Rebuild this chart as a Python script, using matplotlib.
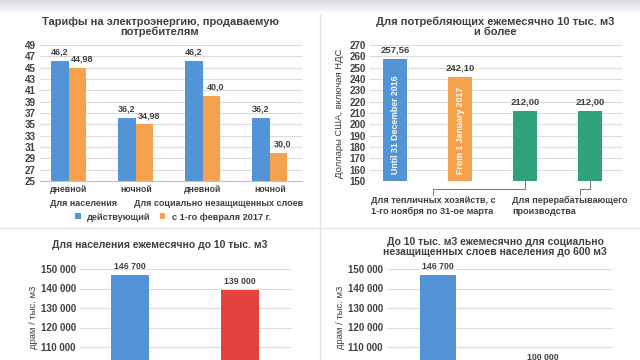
import numpy as np
import matplotlib
matplotlib.use('Agg')
import matplotlib.pyplot as plt
from matplotlib.lines import Line2D

plt.rcParams['font.family'] = ['Liberation Sans', 'DejaVu Sans']
plt.rcParams['font.weight'] = 'bold'

W, H = 640, 360

# top left: electricity tariffs
tariff_cats = ['дневной', 'ночной', 'дневной', 'ночной']
tariff_groups = ['Для населения', 'Для социально незащищенных слоев']
tariff_now = [46.2, 36.2, 46.2, 36.2]
tariff_new = [44.98, 34.98, 40.0, 30.0]
legend_names = ['действующий', 'с 1-го февраля 2017 г.']

# top right: gas, 10k m3 and more
big_vals = [257.56, 242.10, 212.00, 212.00]
big_inside = ['Until 31 December 2016', 'From 1 January 2017', '', '']
big_groups = ['Для тепличных хозяйств, с\n1-го ноября по 31-ое марта',
              'Для перерабатывающего\nпроизводства']

# bottom: gas up to 10k m3
home_vals = [146700, 139000]
social_vals = [146700, 100000]

BLUE = '#5294d6'
ORANGE = '#f5a24e'
GREEN = '#2fa27c'
RED = '#e5413f'
TXT = '#404040'
GRID = '#dcdcdc'


def px_axes(x0, y0, x1, y1):
    return fig.add_axes([x0 / W, 1 - y1 / H, (x1 - x0) / W, (y1 - y0) / H])


def px_text(x, y, s, **kw):
    kw.setdefault('color', TXT)
    kw.setdefault('fontweight', 'bold')
    return fig.text(x / W, 1 - y / H, s, **kw)


def style(ax, size=7):
    for s in ['top', 'right', 'left']:
        ax.spines[s].set_visible(False)
    ax.spines['bottom'].set_color('#bfbfbf')
    ax.grid(axis='y', color=GRID, lw=0.8)
    ax.set_axisbelow(True)
    ax.tick_params(length=0, labelsize=size, labelcolor=TXT, pad=3)
    ax.patch.set_alpha(0)


def dec(v, n):
    return f'{v:.{n}f}'.replace('.', ',')


def thous(v):
    return f'{v:,.0f}'.replace(',', ' ')


fig = plt.figure(figsize=(W / 100, H / 100), dpi=100)
fig.patch.set_facecolor('white')

# background gradient strip at top and panel separators
bg = fig.add_axes([0, 0, 1, 1], zorder=-10)
grad = np.linspace(0, 1, 60).reshape(-1, 1)
bg.imshow(grad, cmap=matplotlib.colors.LinearSegmentedColormap.from_list(
    'g', ['#d7dbe1', '#ffffff']), aspect='auto', extent=[0, 1, 1 - 14 / H, 1])
bg.set_xlim(0, 1)
bg.set_ylim(0, 1)
bg.axis('off')
bg.add_line(Line2D([320 / W, 320 / W], [0, 1 - 14 / H], color='#e4e4e4', lw=1))
bg.add_line(Line2D([0, 1], [1 - 228 / H, 1 - 228 / H], color='#e4e4e4', lw=1))

# ---- top left
ax1 = px_axes(40, 45, 302, 181)
style(ax1)
x = np.arange(len(tariff_cats))
bw = 0.26
b1 = ax1.bar(x - bw / 2, np.array(tariff_now) - 25, bw, bottom=25, color=BLUE)
b2 = ax1.bar(x + bw / 2, np.array(tariff_new) - 25, bw, bottom=25, color=ORANGE)
for xi, v in zip(x, tariff_now):
    ax1.annotate(dec(v, 1), (xi - bw / 2, v), xytext=(0, 3), textcoords='offset points',
                 ha='center', va='bottom', fontsize=6.5, color=TXT)
for xi, v in zip(x, tariff_new):
    ax1.annotate(dec(v, 2) if v % 1 else dec(v, 1), (xi + bw / 2, v), xytext=(3, 3),
                 textcoords='offset points', ha='center', va='bottom', fontsize=6.5, color=TXT)
ax1.set_ylim(25, 49)
ax1.set_yticks(np.arange(25, 50, 2))
ax1.set_xlim(-0.43, 3.48)
ax1.set_xticks(x)
ax1.set_xticklabels(tariff_cats, fontsize=6.3)
px_text(160, 27, 'Тарифы на электроэнергию, продаваемую\nпотребителям', ha='center',
        va='center', fontsize=8, linespacing=1.0)
px_text(83, 203, tariff_groups[0], ha='center', va='center', fontsize=6.5)
px_text(219, 203, tariff_groups[1], ha='center', va='center', fontsize=6.5)
fig.legend([b1, b2], legend_names, loc='center', bbox_to_anchor=(173 / W, 1 - 217 / H),
           ncol=2, frameon=False, fontsize=6.6, handlelength=0.6, handleheight=0.6,
           handletextpad=0.7, columnspacing=1.0, labelcolor=TXT)

# ---- top right
ax2 = px_axes(370, 45, 622, 181)
style(ax2)
x2 = np.arange(len(big_vals))
ax2.bar(x2, np.array(big_vals) - 150, 0.36, bottom=150, color=[BLUE, ORANGE, GREEN, GREEN])
for xi, v, s in zip(x2, big_vals, big_inside):
    ax2.annotate(dec(v, 2), (xi, v), xytext=(0, 3), textcoords='offset points',
                 ha='center', va='bottom', fontsize=6.8, color=TXT)
    if s:
        ax2.text(xi, 156, s, rotation=90, ha='center', va='bottom', color='white',
                 fontsize=6.3, fontweight='bold')
ax2.set_ylim(150, 270)
ax2.set_yticks(np.arange(150, 271, 10))
ax2.set_xlim(-0.385, 3.49)
ax2.set_xticks([])
ax2.spines['bottom'].set_visible(False)
ax2.set_ylabel('Доллары США, включая НДС', fontsize=6.8, color=TXT, labelpad=4)
# brackets under the green bars
lc = '#808080'
ax2.plot([2, 2, 0.585, 0.585], [150, 143, 143, 137.5], color=lc, lw=0.8, clip_on=False)
ax2.plot([3, 3, 2.85, 2.85], [150, 143, 143, 137.5], color=lc, lw=0.8, clip_on=False)
px_text(371, 206, big_groups[0], ha='left', va='center', fontsize=6.6, linespacing=1.3)
px_text(512, 206, big_groups[1], ha='left', va='center', fontsize=6.6, linespacing=1.3)
px_text(495, 27, 'Для потребляющих ежемесячно 10 тыс. м3\nи более', ha='center',
        va='center', fontsize=8, linespacing=1.0)

# ---- bottom left
ax3 = px_axes(80, 269, 292, 366.5)
style(ax3)
ax3.spines['bottom'].set_visible(False)
x3 = np.arange(len(home_vals))
ax3.bar(x3, home_vals, 0.345, color=[BLUE, RED])
for xi, v in zip(x3, home_vals):
    ax3.annotate(thous(v), (xi, v), xytext=(0, 3), textcoords='offset points',
                 ha='center', va='bottom', fontsize=6.3, color=TXT)
ax3.set_ylim(100000, 150000)
ax3.set_yticks(np.arange(110000, 150001, 10000))
ax3.set_yticklabels([thous(v) for v in range(110000, 150001, 10000)])
ax3.set_xlim(-0.455, 1.473)
ax3.set_xticks([])
ax3.set_ylabel('драм / тыс. м3', fontsize=6.8, color=TXT, labelpad=2)
px_text(160, 245, 'Для населения ежемесячно до 10 тыс. м3', ha='center', va='center',
        fontsize=7.5)

# ---- bottom right
ax4 = px_axes(387, 269, 613, 366.5)
style(ax4)
ax4.spines['bottom'].set_visible(False)
x4 = np.arange(len(social_vals))
ax4.bar(x4, social_vals, 0.35, color=[BLUE, RED])
for xi, v in zip(x4, social_vals):
    ax4.annotate(thous(v), (xi, v), xytext=(0, 3), textcoords='offset points',
                 ha='center', va='bottom', fontsize=6.3, color=TXT)
ax4.set_ylim(100000, 150000)
ax4.set_yticks(np.arange(110000, 150001, 10000))
ax4.set_yticklabels([thous(v) for v in range(110000, 150001, 10000)])
ax4.set_xlim(-0.486, 1.667)
ax4.set_xticks([])
ax4.set_ylabel('драм / тыс. м3', fontsize=6.8, color=TXT, labelpad=2)
px_text(495, 247, 'До 10 тыс. м3 ежемесячно для социально\nнезащищенных слоев населения до 600 м3',
        ha='center', va='center', fontsize=7.5, linespacing=1.05)

fig.savefig('out.png', dpi=100)
